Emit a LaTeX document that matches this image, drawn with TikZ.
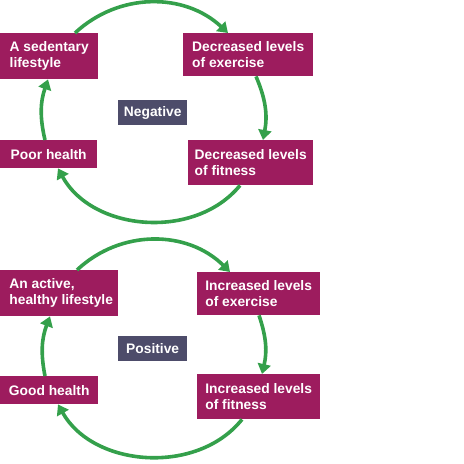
\documentclass[tikz,border=0pt]{standalone}
\usepackage{fontspec}
\setmainfont{Liberation Sans}
\usetikzlibrary{arrows.meta}
\definecolor{stagepink}{RGB}{157,28,94}
\definecolor{labelgrey}{RGB}{77,76,106}
\definecolor{cyclegreen}{RGB}{52,160,75}
\begin{document}
\begin{tikzpicture}[x=1pt,y=-1pt,
  stage/.style={fill=stagepink, text=white, font=\bfseries\fontsize{13.8}{16}\selectfont,
    anchor=north west, inner sep=0pt, align=left},
  kind/.style={fill=labelgrey, text=white, font=\bfseries\fontsize{13.8}{16}\selectfont,
    anchor=north west, inner sep=0pt, minimum width=69pt, minimum height=25pt},
  cycle/.style={cyclegreen, line width=3.6pt, -{Triangle[length=10pt,width=13pt]}}]
\useasboundingbox (0,0) rectangle (464,464);

% Negative cycle
\node[stage, minimum width=98pt, minimum height=46pt] (sed) at (0,33) {A sedentary\\lifestyle};
\node[stage, minimum width=130pt, minimum height=43pt] (dex) at (183,33) {Decreased levels\\of exercise};
\node[stage, minimum width=125pt, minimum height=45pt] (dfit) at (188,140) {Decreased levels\\of fitness};
\node[stage, minimum width=97pt, minimum height=28pt] (poor) at (0,140) {Poor health};
\node[kind] (neg) at (118,100) {Negative};

\draw[cycle] ([xshift=75pt]sed.north west) to[bend left=43] ([xshift=45pt]dex.north west);
\draw[cycle] ([xshift=73pt]dex.south west) to[bend left=17] ([xshift=75pt]dfit.north west);
\draw[cycle] ([xshift=52pt]dfit.south west) to[bend left=56] ([xshift=58pt]poor.south west);
\draw[cycle] ([xshift=45pt]poor.north west) to[bend left=16] ([xshift=48pt]sed.south west);

% Positive cycle
\node[stage, minimum width=118pt, minimum height=46pt] (act) at (0,270) {An active,\\healthy lifestyle\hspace*{-4pt}};
\node[stage, minimum width=123pt, minimum height=43pt] (iex) at (197,272) {Increased levels\\of exercise};
\node[stage, minimum width=123pt, minimum height=45pt] (ifit) at (197,374) {Increased levels\\of fitness};
\node[stage, minimum width=98pt, minimum height=28pt] (good) at (0,376) {Good health};
\node[kind] (pos) at (118,336) {Positive};

\draw[cycle] ([xshift=77pt]act.north west) to[bend left=44] ([xshift=33pt]iex.north west);
\draw[cycle] ([xshift=62pt]iex.south west) to[bend left=16] ([xshift=65pt]ifit.north west);
\draw[cycle] ([xshift=45pt]ifit.south west) to[bend left=56] ([xshift=58pt]good.south west);
\draw[cycle] ([xshift=45pt]good.north west) to[bend left=16] ([xshift=50pt]act.south west);

\end{tikzpicture}
\end{document}
